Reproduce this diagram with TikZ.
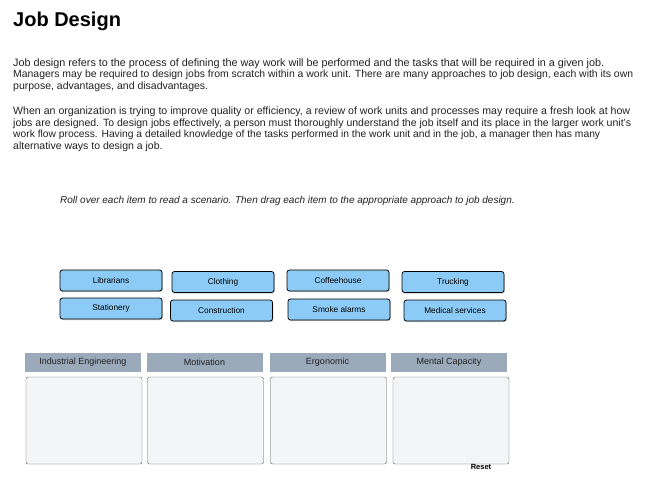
\documentclass[tikz,border=0pt]{standalone}
\usepackage{fontspec}
\usepackage{graphicx}
\setmainfont{Liberation Sans}
\usetikzlibrary{shadows}
\definecolor{itemblue}{HTML}{8CCBF5}
\definecolor{hdrgray}{HTML}{9AAABB}
\definecolor{dropbg}{HTML}{F3F5F7}
\definecolor{txt}{HTML}{222222}
\tikzset{
 item/.style={draw=black, line width=0.8pt, rounded corners=2.5pt, fill=itemblue, minimum width=102pt, minimum height=21pt, font=\fontsize{8.3}{9}\selectfont, drop shadow={shadow xshift=0.8pt, shadow yshift=-1.2pt, opacity=0.4}},
 hdr/.style={fill=hdrgray, draw=white, minimum width=117pt, minimum height=20pt, font=\fontsize{9}{10}\selectfont, text=txt},
 dropbox/.style={draw=gray!70!black, rounded corners=2pt, fill=dropbg, minimum width=116pt, minimum height=87pt},
 body/.style={anchor=west, font=\fontsize{10.5}{11}\selectfont, text=txt, inner sep=0pt},
}
\begin{document}
\begin{tikzpicture}[x=1pt,y=-1pt]
\useasboundingbox (0,0) rectangle (646,477);
\fill[white] (0,0) rectangle (646,477);
\node[anchor=west, inner sep=0pt, font=\fontsize{20}{22}\bfseries] (title) at (13,21) {Job Design};
\node[body] (p1a) at (13,64) {\resizebox{591pt}{!}{Job design refers to the process of defining the way work will be performed and the tasks that will be required in a given job.}};
\node[body] (p1b) at (13,75) {\resizebox{620pt}{!}{Managers may be required to design jobs from scratch within a work unit. There are many approaches to job design, each with its own}};
\node[body] (p1c) at (13,87) {purpose, advantages, and disadvantages.};
\node[body] (p2a) at (13,112) {\resizebox{617pt}{!}{When an organization is trying to improve quality or efficiency, a review of work units and processes may require a fresh look at how}};
\node[body] (p2b) at (13,124) {\resizebox{618pt}{!}{jobs are designed. To design jobs effectively, a person must thoroughly understand the job itself and its place in the larger work unit's}};
\node[body] (p2c) at (13,135) {\resizebox{587pt}{!}{work flow process. Having a detailed knowledge of the tasks performed in the work unit and in the job, a manager then has many}};
\node[body] (p2d) at (13,147) {alternative ways to design a job.};
\node[body, font=\fontsize{10}{10}\itshape] (instr) at (60,201) {Roll over each item to read a scenario. Then drag each item to the appropriate approach to job design.};
\node[item] (lib) at (111,280.5) {Librarians};
\node[item] (clo) at (223,282) {Clothing};
\node[item] (cof) at (338,280.5) {Coffeehouse};
\node[item] (tru) at (453,282) {Trucking};
\node[item] (sta) at (111,308.5) {Stationery};
\node[item] (con) at (221.5,310.5) {Construction};
\node[item] (smo) at (339,309.5) {Smoke alarms};
\node[item] (med) at (455,310.5) {Medical services};
\node[hdr] (h1) at (83,362) {Industrial Engineering};
\node[hdr] (h2) at (204.5,362) {Motivation};
\node[hdr] (h3) at (327.5,362) {Ergonomic};
\node[hdr] (h4) at (449,362) {Mental Capacity};
\node[dropbox] (d1) at (84,420.5) {};
\node[dropbox] (d2) at (205.5,420.5) {};
\node[dropbox] (d3) at (328.5,420.5) {};
\node[dropbox] (d4) at (451,420.5) {};
\node[inner sep=0pt, font=\fontsize{7.5}{8}\bfseries] (reset) at (481,467) {Reset};
\end{tikzpicture}
\end{document}
